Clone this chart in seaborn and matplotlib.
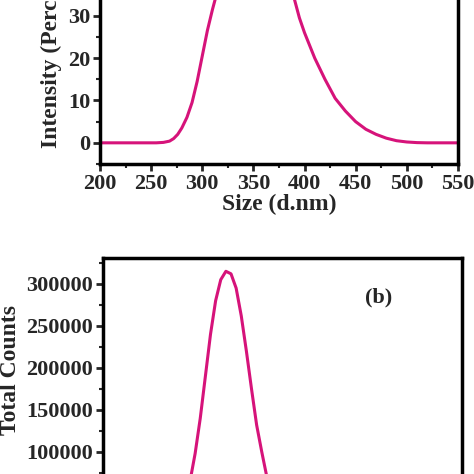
import matplotlib
matplotlib.use("Agg")
import matplotlib.pyplot as plt
import seaborn as sns
from matplotlib.ticker import AutoMinorLocator

sns.set_style("white")
plt.rcParams['font.family'] = ['Liberation Serif', 'DejaVu Serif']
plt.rcParams['font.weight'] = 'bold'

# panel (a): intensity distribution
size_a = [200, 220, 240, 255, 262, 268, 272, 276, 280, 285, 290, 295, 300, 305, 310, 315,
          320, 330, 340, 350, 360, 370, 380, 390, 395, 400, 405, 410, 420, 430, 440,
          450, 460, 470, 480, 490, 500, 510, 520, 535, 550]
intensity_a = [0, 0, 0, 0, 0.1, 0.4, 1.0, 2.0, 3.5, 6.0, 9.5, 14.5, 20.5, 26.5, 31.5, 36,
               40, 45, 48, 49, 48, 45, 40, 34, 29.5, 26, 23, 20, 15, 10.5, 7.5,
               5, 3.2, 2.0, 1.1, 0.5, 0.2, 0.05, 0, 0, 0]

# panel (b): total counts
size_b = [200, 250, 260, 270, 280, 285, 290, 295, 300, 305, 310, 315, 320, 325, 330,
          335, 340, 345, 350, 355, 360, 370, 380, 400, 550]
counts_b = [0, 500, 5000, 25000, 65000, 98000, 140000, 190000, 240000, 280000, 305000,
            315000, 312000, 295000, 262000, 220000, 175000, 132000, 100000, 70000, 45000,
            17000, 5000, 300, 0]

pink = '#d6137a'
fig = plt.figure(figsize=(4.74, 4.74), dpi=100)
ax1 = fig.add_axes([0.211, 0.654, 0.755, 0.42])
ax2 = fig.add_axes([0.217, -0.166, 0.757, 0.622])

sns.lineplot(x=size_a, y=intensity_a, ax=ax1, color=pink, lw=2.2)
ax1.set_xlim(200, 550)
ax1.set_ylim(-5, 42)
ax1.set_xticks(range(200, 551, 50))
ax1.set_yticks([0, 10, 20, 30, 40])
ax1.set_xlabel('Size (d.nm)', fontsize=17, fontweight='bold', labelpad=0)
ax1.set_ylabel('Intensity (Percent)', fontsize=17, fontweight='bold', labelpad=4, y=0.55)

sns.lineplot(x=size_b, y=counts_b, ax=ax2, color=pink, lw=2.2)
ax2.set_xlim(195, 545)
ax2.set_ylim(-20000, 331000)
ax2.set_yticks(range(0, 300001, 50000))
ax2.set_ylabel('Total Counts', fontsize=17, fontweight='bold', labelpad=4, y=0.62)
ax2.text(0.73, 0.85, '(b)', transform=ax2.transAxes, fontsize=16, fontweight='bold')

for ax in (ax1, ax2):
    for s in ax.spines.values():
        s.set_linewidth(2.5)
        s.set_color('black')
    ax.xaxis.set_minor_locator(AutoMinorLocator(2))
    ax.yaxis.set_minor_locator(AutoMinorLocator(2))
    ax.tick_params(which='major', direction='out', length=5, width=2, labelsize=16,
                   left=True, bottom=True, pad=2)
    ax.tick_params(which='minor', direction='out', length=3, width=1.5, left=True, bottom=True)
    for lbl in ax.get_xticklabels() + ax.get_yticklabels():
        lbl.set_fontweight('bold')

fig.savefig('out.png', dpi=100)
